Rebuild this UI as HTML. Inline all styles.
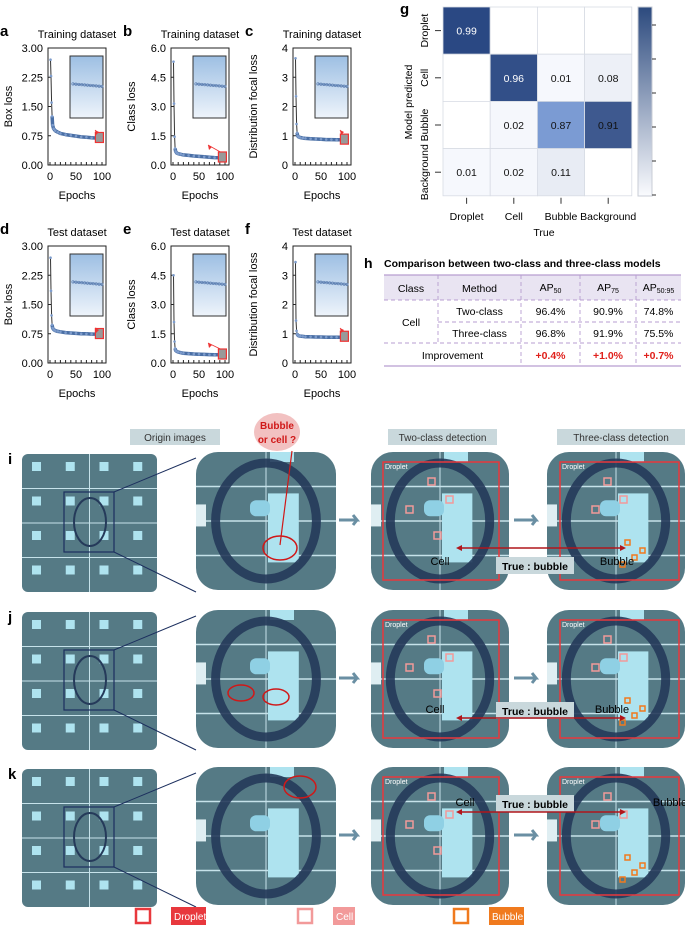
<!DOCTYPE html>
<html><head><meta charset="utf-8"><style>
body{margin:0;background:#fff}
svg{display:block;font-family:"Liberation Sans",sans-serif}
</style></head><body>
<svg id="fig" width="685" height="933" viewBox="0 0 685 933" xmlns="http://www.w3.org/2000/svg">
<g id="charts"></g>
<g id="cm"></g>
<g id="tbl"></g>
<g id="imgs"></g>
</svg>
<script>
// ---- loss chart data ----
const epochs = [1,2,3,4,5,7,10,15,20,30,40,50,60,70,80,90,95];
const trainBox = [2.70,2.28,1.60,1.25,1.02,0.93,0.88,0.84,0.81,0.78,0.76,0.74,0.72,0.71,0.70,0.69,0.68];
const trainCls = [5.3,3.15,1.45,0.85,0.70,0.62,0.58,0.55,0.52,0.49,0.46,0.44,0.42,0.40,0.38,0.37,0.36];
const trainDfl = [3.65,2.35,1.40,1.10,1.00,0.96,0.94,0.92,0.91,0.90,0.89,0.88,0.87,0.87,0.86,0.86,0.85];
const testBox = [2.70,1.85,1.22,0.98,0.90,0.86,0.83,0.81,0.80,0.78,0.77,0.76,0.75,0.75,0.74,0.74,0.73];
const testCls = [4.5,2.1,1.10,0.75,0.64,0.60,0.56,0.53,0.50,0.48,0.46,0.45,0.44,0.43,0.42,0.42,0.41];
const testDfl = [3.45,1.45,1.10,1.00,0.96,0.93,0.92,0.91,0.90,0.90,0.89,0.89,0.88,0.88,0.88,0.88,0.88];
const boxTicks = ["0.00","0.75","1.50","2.25","3.00"];
const clsTicks = ["0.0","1.5","3.0","4.5","6.0"];
const dflTicks = ["0","1","2","3","4"];
const xTicks = [0,50,100];
// ---- confusion matrix data ----
const cmLabels = ["Droplet","Cell","Bubble","Background"];
const cmValues = [[0.99,null,null,null],[null,0.96,0.01,0.08],[null,0.02,0.87,0.91],[0.01,0.02,0.11,null]];
// ---- table data ----
const tblMethods = ["Two-class","Three-class"];
const tblAP50 = ["96.4%","96.8%"];
const tblAP75 = ["90.9%","91.9%"];
const tblAP5095 = ["74.8%","75.5%"];
const tblImprove = ["+0.4%","+1.0%","+0.7%"];

const NS="http://www.w3.org/2000/svg";
function el(p,tag,attrs,text){const e=document.createElementNS(NS,tag);for(const k in attrs)e.setAttribute(k,attrs[k]);if(text!==undefined)e.textContent=text;p.appendChild(e);return e;}

const charts=document.getElementById('charts');
const panels=[
 {L:'a',title:'Training dataset',y:'Box loss',d:trainBox,t:boxTicks,max:3,x0:48,y0:48},
 {L:'b',title:'Training dataset',y:'Class loss',d:trainCls,t:clsTicks,max:6,x0:171,y0:48},
 {L:'c',title:'Training dataset',y:'Distribution focal loss',d:trainDfl,t:dflTicks,max:4,x0:293,y0:48},
 {L:'d',title:'Test dataset',y:'Box loss',d:testBox,t:boxTicks,max:3,x0:48,y0:246},
 {L:'e',title:'Test dataset',y:'Class loss',d:testCls,t:clsTicks,max:6,x0:171,y0:246},
 {L:'f',title:'Test dataset',y:'Distribution focal loss',d:testDfl,t:dflTicks,max:4,x0:293,y0:246},
];
panels.forEach((p,i)=>{
 const W=58,H=117;
 const g=el(charts,'g',{});
 
 
 const xs=v=>p.x0+2+v/100*(W-6);
 const ys=v=>p.y0+H-v/p.max*H;
 el(g,'text',{x:p.x0-48,y:p.y0-12,'font-size':15,'font-weight':'bold'},p.L);
 el(g,'text',{x:p.x0+W/2,y:p.y0-10,'font-size':11,'text-anchor':'middle'},p.title);
 el(g,'rect',{x:p.x0,y:p.y0,width:W,height:H,fill:'#fff',stroke:'#222','stroke-width':1});
 p.t.forEach((t,k)=>{const yy=p.y0+H-k*H/4;el(g,'line',{x1:p.x0,x2:p.x0+3,y1:yy,y2:yy,stroke:'#222'});el(g,'text',{x:p.x0-5,y:yy+4,'font-size':11,'text-anchor':'end'},t);});
 xTicks.forEach(t=>{el(g,'text',{x:xs(t),y:p.y0+H+15,'font-size':11,'text-anchor':'middle'},t);});
 for(let k=0;k<=10;k++){el(g,'line',{x1:xs(k*10),x2:xs(k*10),y1:p.y0+H,y2:p.y0+H-3,stroke:'#222'});}
 el(g,'text',{x:p.x0+W/2,y:p.y0+H+34,'font-size':11,'text-anchor':'middle'},'Epochs');
 const tx=p.x0-36,ty=p.y0+H/2;
 el(g,'text',{x:tx,y:ty,'font-size':11,'text-anchor':'middle',transform:`rotate(-90 ${tx} ${ty})`},p.y);
 let d='';p.d.forEach((v,k)=>{d+=(k?'L':'M')+xs(epochs[k]).toFixed(1)+','+ys(v).toFixed(1);});
 el(g,'path',{d:d,fill:'none',stroke:'#333','stroke-width':1});
 el(g,'path',{d:d.replace(/^M[^L]*L[^L]*L[^L]*L/,'M'),fill:'none',stroke:'#4a6fa5','stroke-width':3.5,'stroke-linejoin':'round'});
 p.d.forEach((v,k)=>{el(g,'circle',{cx:xs(epochs[k]),cy:ys(v),r:1.3,fill:'#7d9ccc'});});
 const ix=p.x0+22,iy=p.y0+8,iw=33,ih=62;
 const gid='gr'+i;
 const gr=el(el(g,'defs',{}),'linearGradient',{id:gid,x1:0,y1:0,x2:0,y2:1});
 el(gr,'stop',{offset:0,'stop-color':'#9dbfe3'});el(gr,'stop',{offset:1,'stop-color':'#eef4fb'});
 el(g,'rect',{x:ix,y:iy,width:iw,height:ih,fill:`url(#${gid})`,stroke:'#333'});
 const iyv=iy+ih*0.45;
 for(let k=0;k<11;k++){const cx=ix+3+k*2.9;el(g,'circle',{cx:cx,cy:iyv+k*0.25,r:1.2,fill:'none',stroke:'#5a7db0','stroke-width':0.7});}
 el(g,'line',{x1:ix+3,x2:ix+32,y1:iyv,y2:iyv+2.5,stroke:'#5a7db0','stroke-width':0.7});
 const bx=xs(95),by=ys(p.d[p.d.length-1]);
 el(g,'rect',{x:bx-4,y:by-6,width:8,height:10,fill:'#999',stroke:'#e33','stroke-width':1.2});
 el(g,'line',{x1:bx-2,y1:by-6,x2:p.x0+(i%3==1?37:47),y2:iy+ih+(i%3==1?27:12),stroke:'#e33','stroke-width':0.8});
 el(g,'path',{d:`M${p.x0+(i%3==1?37:47)},${iy+ih+(i%3==1?27:12)} l1,5 l3,-3z`,fill:'#e33'});
});

// ---- confusion matrix ----
const cm=document.getElementById('cm');
const cx0=443,cy0=7,cw=47.2,ch=47.2;
el(cm,'text',{x:400,y:14,'font-size':15,'font-weight':'bold'},'g');
function cmColor(v){if(v==null)return '#ffffff';const a=[247,249,253],b=[40,70,130];const t=Math.pow(v,1.2);return `rgb(${a.map((c,i)=>Math.round(c+(b[i]-c)*t)).join(',')})`;}
cmValues.forEach((row,r)=>row.forEach((v,c)=>{
 const cell=el(cm,'rect',{x:cx0+c*cw,y:cy0+r*ch,width:cw,height:ch,fill:r==2&&c==2?'#7b9bd3':cmColor(v),stroke:'#d8dce4','stroke-width':0.8});
 
 
 if(v!=null)el(cm,'text',{x:cx0+c*cw+cw/2,y:cy0+r*ch+ch/2+4,'font-size':10.5,'text-anchor':'middle',fill:v>0.9&&!(r==2&&c==3)?'#fff':'#111'},v.toFixed(2));
}));
cmLabels.forEach((l,k)=>{
 const yy=cy0+k*ch+ch/2, xx=cx0+k*cw+cw/2;
 el(cm,'line',{x1:cx0-8,x2:cx0-2,y1:yy,y2:yy,stroke:'#333'});
 el(cm,'text',{x:428,y:yy,'font-size':10.5,'text-anchor':'middle',transform:`rotate(-90 428 ${yy})`},l);
 el(cm,'line',{x1:xx,x2:xx,y1:cy0+4*ch+2,y2:cy0+4*ch+8,stroke:'#333'});
 el(cm,'text',{x:xx,y:220,'font-size':10.5,'text-anchor':'middle'},l);
});
el(cm,'text',{x:412,y:102,'font-size':10.5,'text-anchor':'middle',transform:'rotate(-90 412 102)'},'Model predicted');
el(cm,'text',{x:544,y:236,'font-size':10.5,'text-anchor':'middle'},'True');
const cg=el(el(cm,'defs',{}),'linearGradient',{id:'cbar',x1:0,y1:0,x2:0,y2:1});
el(cg,'stop',{offset:0,'stop-color':'#2c4a7e'});el(cg,'stop',{offset:1,'stop-color':'#fafbfe'});
el(cm,'rect',{x:638,y:7,width:14,height:189,fill:'url(#cbar)',stroke:'#c8ccd6'});
for(let k=0;k<6;k++)el(cm,'line',{x1:652,x2:656,y1:25+k*34,y2:25+k*34,stroke:'#333'});

// ---- table ----
const tb=document.getElementById('tbl');
el(tb,'text',{x:364,y:268,'font-size':14,'font-weight':'bold'},'h');
el(tb,'text',{x:384,y:267,'font-size':10.5,'font-weight':'bold'},'Comparison between two-class and three-class models');
const cols=[384,438,521,580,636,681];
el(tb,'rect',{x:384,y:275,width:297,height:25,fill:'#e9e4f2'});
const dash={stroke:'#b79dd0','stroke-width':0.9,'stroke-dasharray':'4,3'};
[275,300,343].forEach(y=>el(tb,'line',Object.assign({x1:384,x2:681,y1:y,y2:y},dash)));
el(tb,'line',{x1:384,x2:681,y1:366,y2:366,stroke:'#b79dd0','stroke-width':1.2});
el(tb,'line',Object.assign({x1:438,x2:681,y1:322,y2:322},dash));
[438,521,580,636].forEach((x,k)=>el(tb,'line',Object.assign({x1:x,x2:x,y1:275,y2:k==0?343:366},dash)));
el(tb,'line',{x1:384,x2:681,y1:275,y2:275,stroke:'#b79dd0','stroke-width':1.2});
const mid=k=>(cols[k]+cols[k+1])/2;
el(tb,'text',{x:mid(0),y:292,'font-size':10.5,'text-anchor':'middle'},'Class');
el(tb,'text',{x:mid(1),y:292,'font-size':10.5,'text-anchor':'middle'},'Method');
[['AP','50'],['AP','75'],['AP','50:95']].forEach((a,k)=>{const t=el(tb,'text',{x:mid(k+2),y:291,'font-size':10.5,'text-anchor':'middle'},a[0]);el(t,'tspan',{'font-size':7,dy:2},a[1]);});
el(tb,'text',{x:mid(0),y:326,'font-size':10.5,'text-anchor':'middle'},'Cell');
tblMethods.forEach((m,k)=>{const y=315+k*22;
 el(tb,'text',{x:mid(1),y:y,'font-size':10.5,'text-anchor':'middle'},m);
 el(tb,'text',{x:mid(2),y:y,'font-size':10.5,'text-anchor':'middle'},tblAP50[k]);
 el(tb,'text',{x:mid(3),y:y,'font-size':10.5,'text-anchor':'middle'},tblAP75[k]);
 el(tb,'text',{x:mid(4),y:y,'font-size':10.5,'text-anchor':'middle'},tblAP5095[k]);});
el(tb,'text',{x:(384+521)/2,y:359,'font-size':10.5,'text-anchor':'middle'},'Improvement');
tblImprove.forEach((v,k)=>el(tb,'text',{x:mid(k+2),y:359,'font-size':10.5,'text-anchor':'middle',fill:'#e0201b','font-weight':'bold'},v));

// ---- images ----
const im=document.getElementById('imgs');
[['Origin images',130,220],['Two-class detection',388,497],['Three-class detection',557,685]].forEach(h=>{
 el(im,'rect',{x:h[1],y:429,width:h[2]-h[1],height:16,fill:'#c9d8dc'});
 el(im,'text',{x:(h[1]+h[2])/2,y:441,'font-size':10,'text-anchor':'middle',fill:'#333'},h[0]);});
function chip(x,y,w,h,ring){
 const g=el(im,'g',{});
 el(g,'rect',{x:x,y:y,width:w,height:h,rx:ring?22:6,fill:'#557a85'});
 for(let k=1;k<4;k++)el(g,'line',{x1:x,x2:x+w,y1:y+h*k/4,y2:y+h*k/4,stroke:'#c6e2ea','stroke-width':ring?1.5:1});
 el(g,'line',{x1:x+w/2,x2:x+w/2,y1:y,y2:y+h,stroke:'#c6e2ea','stroke-width':1});
 if(ring){
  el(g,'rect',{x:x+w/2+2,y:y+h*0.3,width:w*0.22,height:h*0.5,fill:'#aee3ef'});
  el(g,'rect',{x:x+w/2-16,y:y+h*0.35,width:20,height:16,rx:6,fill:'#8fd0e4'});
  el(g,'rect',{x:x,y:y+h*0.38,width:10,height:22,fill:'#dfeef2'});
  el(g,'rect',{x:x+w/2+4,y:y,width:24,height:10,fill:'#aee3ef'});
  el(g,'ellipse',{cx:x+w/2,cy:y+h*0.5,rx:w*0.36,ry:h*0.42,fill:'none',stroke:'#253a5a','stroke-width':9,opacity:0.9});
 } else {
  for(let r=0;r<4;r++)for(let c=0;c<4;c++)el(g,'rect',{x:x+10+c*w/4,y:y+8+r*h/4,width:9,height:9,fill:'#aee3ef'});
 }
 return g;
}
const rows=[[470,'i'],[628,'j'],[785,'k']];
rows.forEach(([y,L],r)=>{
 el(im,'text',{x:8,y:y-6,'font-size':15,'font-weight':'bold'},L);
 chip(22,y-16,135,138,false);
 el(im,'ellipse',{cx:90,cy:y+52,rx:16,ry:24,fill:'none',stroke:'#253a5a','stroke-width':2});
 el(im,'rect',{x:64,y:y+22,width:50,height:60,fill:'none',stroke:'#1c2f5e','stroke-width':1.2});
 el(im,'line',{x1:114,y1:y+22,x2:196,y2:y-12,stroke:'#1c2f5e'});
 el(im,'line',{x1:114,y1:y+82,x2:196,y2:y+122,stroke:'#1c2f5e'});
 chip(196,y-18,140,138,true);
 chip(371,y-18,138,138,true);
 chip(547,y-18,138,138,true);
 el(im,'path',{d:`M339,${y+50}h18l-4,-5m4,5l-4,5`,fill:'none',stroke:'#6a8fa3','stroke-width':3});
 el(im,'path',{d:`M514,${y+50}h22l-4,-5m4,5l-4,5`,fill:'none',stroke:'#6a8fa3','stroke-width':3});
 [[383,499],[560,679]].forEach(b=>{el(im,'rect',{x:b[0],y:y-8,width:b[1]-b[0],height:118,fill:'none',stroke:'#e8383d','stroke-width':1.5});
  el(im,'text',{x:b[0]+2,y:y-1,'font-size':7,fill:'#fff'},'Droplet');});
 [[428,y+8],[446,y+26],[406,y+36],[434,y+62]].forEach(p=>el(im,'rect',{x:p[0],y:p[1],width:7,height:7,fill:'none',stroke:'#f29a9a','stroke-width':1.5}));
 [[604,y+8],[620,y+26],[592,y+36]].forEach(p=>el(im,'rect',{x:p[0],y:p[1],width:7,height:7,fill:'none',stroke:'#f29a9a','stroke-width':1.5}));
 [[625,y+70],[640,y+78],[632,y+85],[620,y+92]].forEach(p=>el(im,'rect',{x:p[0],y:p[1],width:5,height:5,fill:'none',stroke:'#f07a1e','stroke-width':1.5}));
});
el(im,'ellipse',{cx:277,cy:432,rx:23,ry:19,fill:'#f2c1c1'});
el(im,'text',{x:277,y:429,'font-size':10,'text-anchor':'middle',fill:'#d01818','font-weight':'bold'},'Bubble');
el(im,'text',{x:277,y:443,'font-size':10,'text-anchor':'middle',fill:'#d01818','font-weight':'bold'},'or cell ?');
el(im,'line',{x1:280,y1:545,x2:292,y2:451,stroke:'#d01818','stroke-width':1.2});
el(im,'ellipse',{cx:280,cy:548,rx:17,ry:12,fill:'none',stroke:'#d01818','stroke-width':1.5});
el(im,'ellipse',{cx:241,cy:693,rx:13,ry:8,fill:'none',stroke:'#d01818','stroke-width':1.5});
el(im,'ellipse',{cx:276,cy:697,rx:13,ry:8,fill:'none',stroke:'#d01818','stroke-width':1.5});
el(im,'ellipse',{cx:300,cy:787,rx:16,ry:11,fill:'none',stroke:'#d01818','stroke-width':1.5});
// annotation rows: [arrow y, label box y, cell text x,y, bubble text x,y]
[[548,557,440,565,617,565],[718,702,435,713,612,713],[812,795,465,806,670,806]].forEach(a=>{
 el(im,'rect',{x:496,y:a[1],width:78,height:17,fill:'#c9d8dc'});
 el(im,'text',{x:535,y:a[1]+13,'font-size':10.5,'text-anchor':'middle','font-weight':'bold'},'True : bubble');
 el(im,'line',{x1:458,y1:a[0],x2:624,y2:a[0],stroke:'#b0161c','stroke-width':1.5});
 el(im,'path',{d:`M456,${a[0]} l6,-3 v6z M626,${a[0]} l-6,-3 v6z`,fill:'#b0161c'});
 el(im,'text',{x:a[2],y:a[3],'font-size':11,'text-anchor':'middle'},'Cell');
 el(im,'text',{x:a[4],y:a[5],'font-size':11,'text-anchor':'middle'},'Bubble');
});
[['Droplet',150,'#e8383d',171],['Cell',312,'#f29a9a',333],['Bubble',468,'#f07a1e',489]].forEach(l=>{
 el(im,'rect',{x:l[1]-14,y:909,width:14,height:14,fill:'none',stroke:l[2],'stroke-width':2.5});
 el(im,'rect',{x:l[3],y:907,width:l[0]=='Cell'?22:35,height:18,fill:l[2]});
 el(im,'text',{x:l[3]+3,y:920,'font-size':10,fill:'#fff'},l[0]);});
</script>
</body></html>
